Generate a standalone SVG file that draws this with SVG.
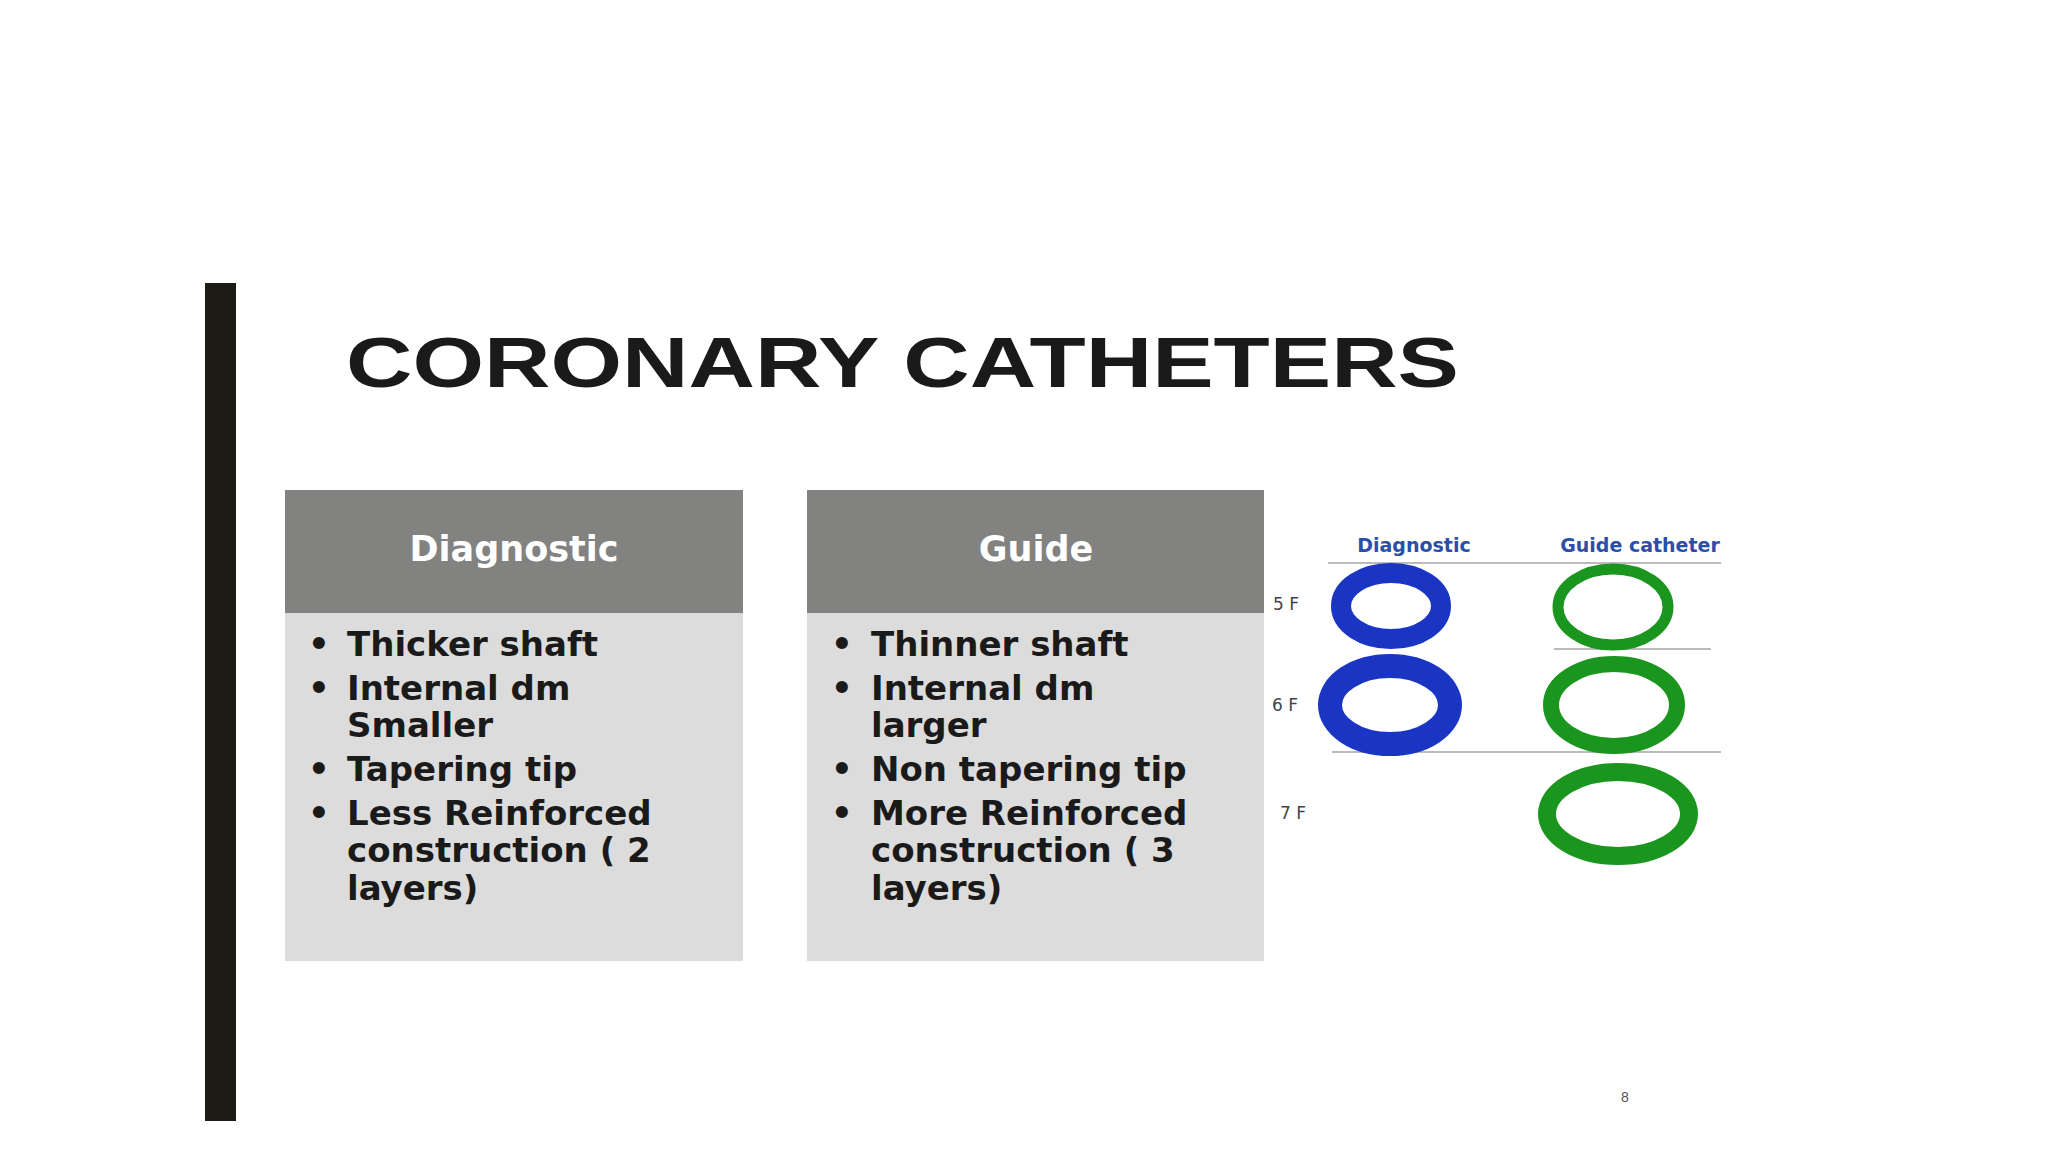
<svg xmlns="http://www.w3.org/2000/svg" width="2048" height="1152" viewBox="0 0 2048 1152">
<style>
.h{font-family:"DejaVu Sans",sans-serif;font-weight:bold;font-size:35px;fill:#fff;text-anchor:middle}
.b{font-family:"DejaVu Sans",sans-serif;font-weight:bold;font-size:34px;fill:#1a1a1a}
.s{font-family:"DejaVu Sans",sans-serif;font-size:17px;fill:#444}
.c{font-family:"DejaVu Sans",sans-serif;font-weight:bold;font-size:19px;fill:#2a4fa8;text-anchor:middle}
</style>
<rect width="2048" height="1152" fill="#fff"/>
<rect x="205" y="283" width="31" height="838" fill="#1c1c14"/>
<text x="346" y="387" font-family="Liberation Sans,sans-serif" font-weight="bold" font-size="70" fill="#1a1a1a" textLength="1113" lengthAdjust="spacingAndGlyphs">CORONARY CATHETERS</text>
<g id="diagnostic">
<rect x="285" y="490" width="458" height="471" fill="#dcdcdc"/>
<rect x="285" y="490" width="458" height="123" fill="#828280"/>
<text class="h" x="514" y="561">Diagnostic</text>
<text class="b"><tspan x="308" y="656">•</tspan><tspan x="347" y="656">Thicker shaft</tspan>
<tspan x="308" y="700">•</tspan><tspan x="347" y="700">Internal dm</tspan><tspan x="347" y="737">Smaller</tspan>
<tspan x="308" y="781">•</tspan><tspan x="347" y="781">Tapering tip</tspan>
<tspan x="308" y="825">•</tspan><tspan x="347" y="825">Less Reinforced</tspan><tspan x="347" y="862">construction ( 2</tspan><tspan x="347" y="900">layers)</tspan></text>
</g>
<g id="guide">
<rect x="807" y="490" width="457" height="471" fill="#dcdcdc"/>
<rect x="807" y="490" width="457" height="123" fill="#828280"/>
<text class="h" x="1036" y="561">Guide</text>
<text class="b"><tspan x="831" y="656">•</tspan><tspan x="871" y="656">Thinner shaft</tspan>
<tspan x="831" y="700">•</tspan><tspan x="871" y="700">Internal dm</tspan><tspan x="871" y="737">larger</tspan>
<tspan x="831" y="781">•</tspan><tspan x="871" y="781">Non tapering tip</tspan>
<tspan x="831" y="825">•</tspan><tspan x="871" y="825">More Reinforced</tspan><tspan x="871" y="862">construction ( 3</tspan><tspan x="871" y="900">layers)</tspan></text>
</g>
<g id="sizes">
<text class="c" x="1414" y="552">Diagnostic</text>
<text class="c" x="1640" y="552">Guide catheter</text>
<line x1="1328" y1="563" x2="1721" y2="563" stroke="#bbb" stroke-width="2"/>
<line x1="1554" y1="649" x2="1711" y2="649" stroke="#bbb" stroke-width="2"/>
<line x1="1332" y1="752" x2="1721" y2="752" stroke="#bbb" stroke-width="2"/>
<text class="s" x="1273" y="610">5 F</text>
<text class="s" x="1272" y="711">6 F</text>
<text class="s" x="1280" y="819">7 F</text>
<ellipse cx="1391" cy="606" rx="50" ry="33" fill="none" stroke="#1a35c4" stroke-width="20"/>
<ellipse cx="1390" cy="705" rx="60" ry="39" fill="none" stroke="#1a35c4" stroke-width="24"/>
<ellipse cx="1613" cy="607" rx="55" ry="38" fill="none" stroke="#1a961e" stroke-width="11"/>
<ellipse cx="1614" cy="705" rx="63" ry="41" fill="none" stroke="#1a961e" stroke-width="16"/>
<ellipse cx="1618" cy="814" rx="71" ry="42" fill="none" stroke="#1a961e" stroke-width="18"/>
</g>
<text x="1625" y="1102" font-family="Liberation Sans,sans-serif" font-size="14" fill="#555" text-anchor="middle">8</text>
</svg>
